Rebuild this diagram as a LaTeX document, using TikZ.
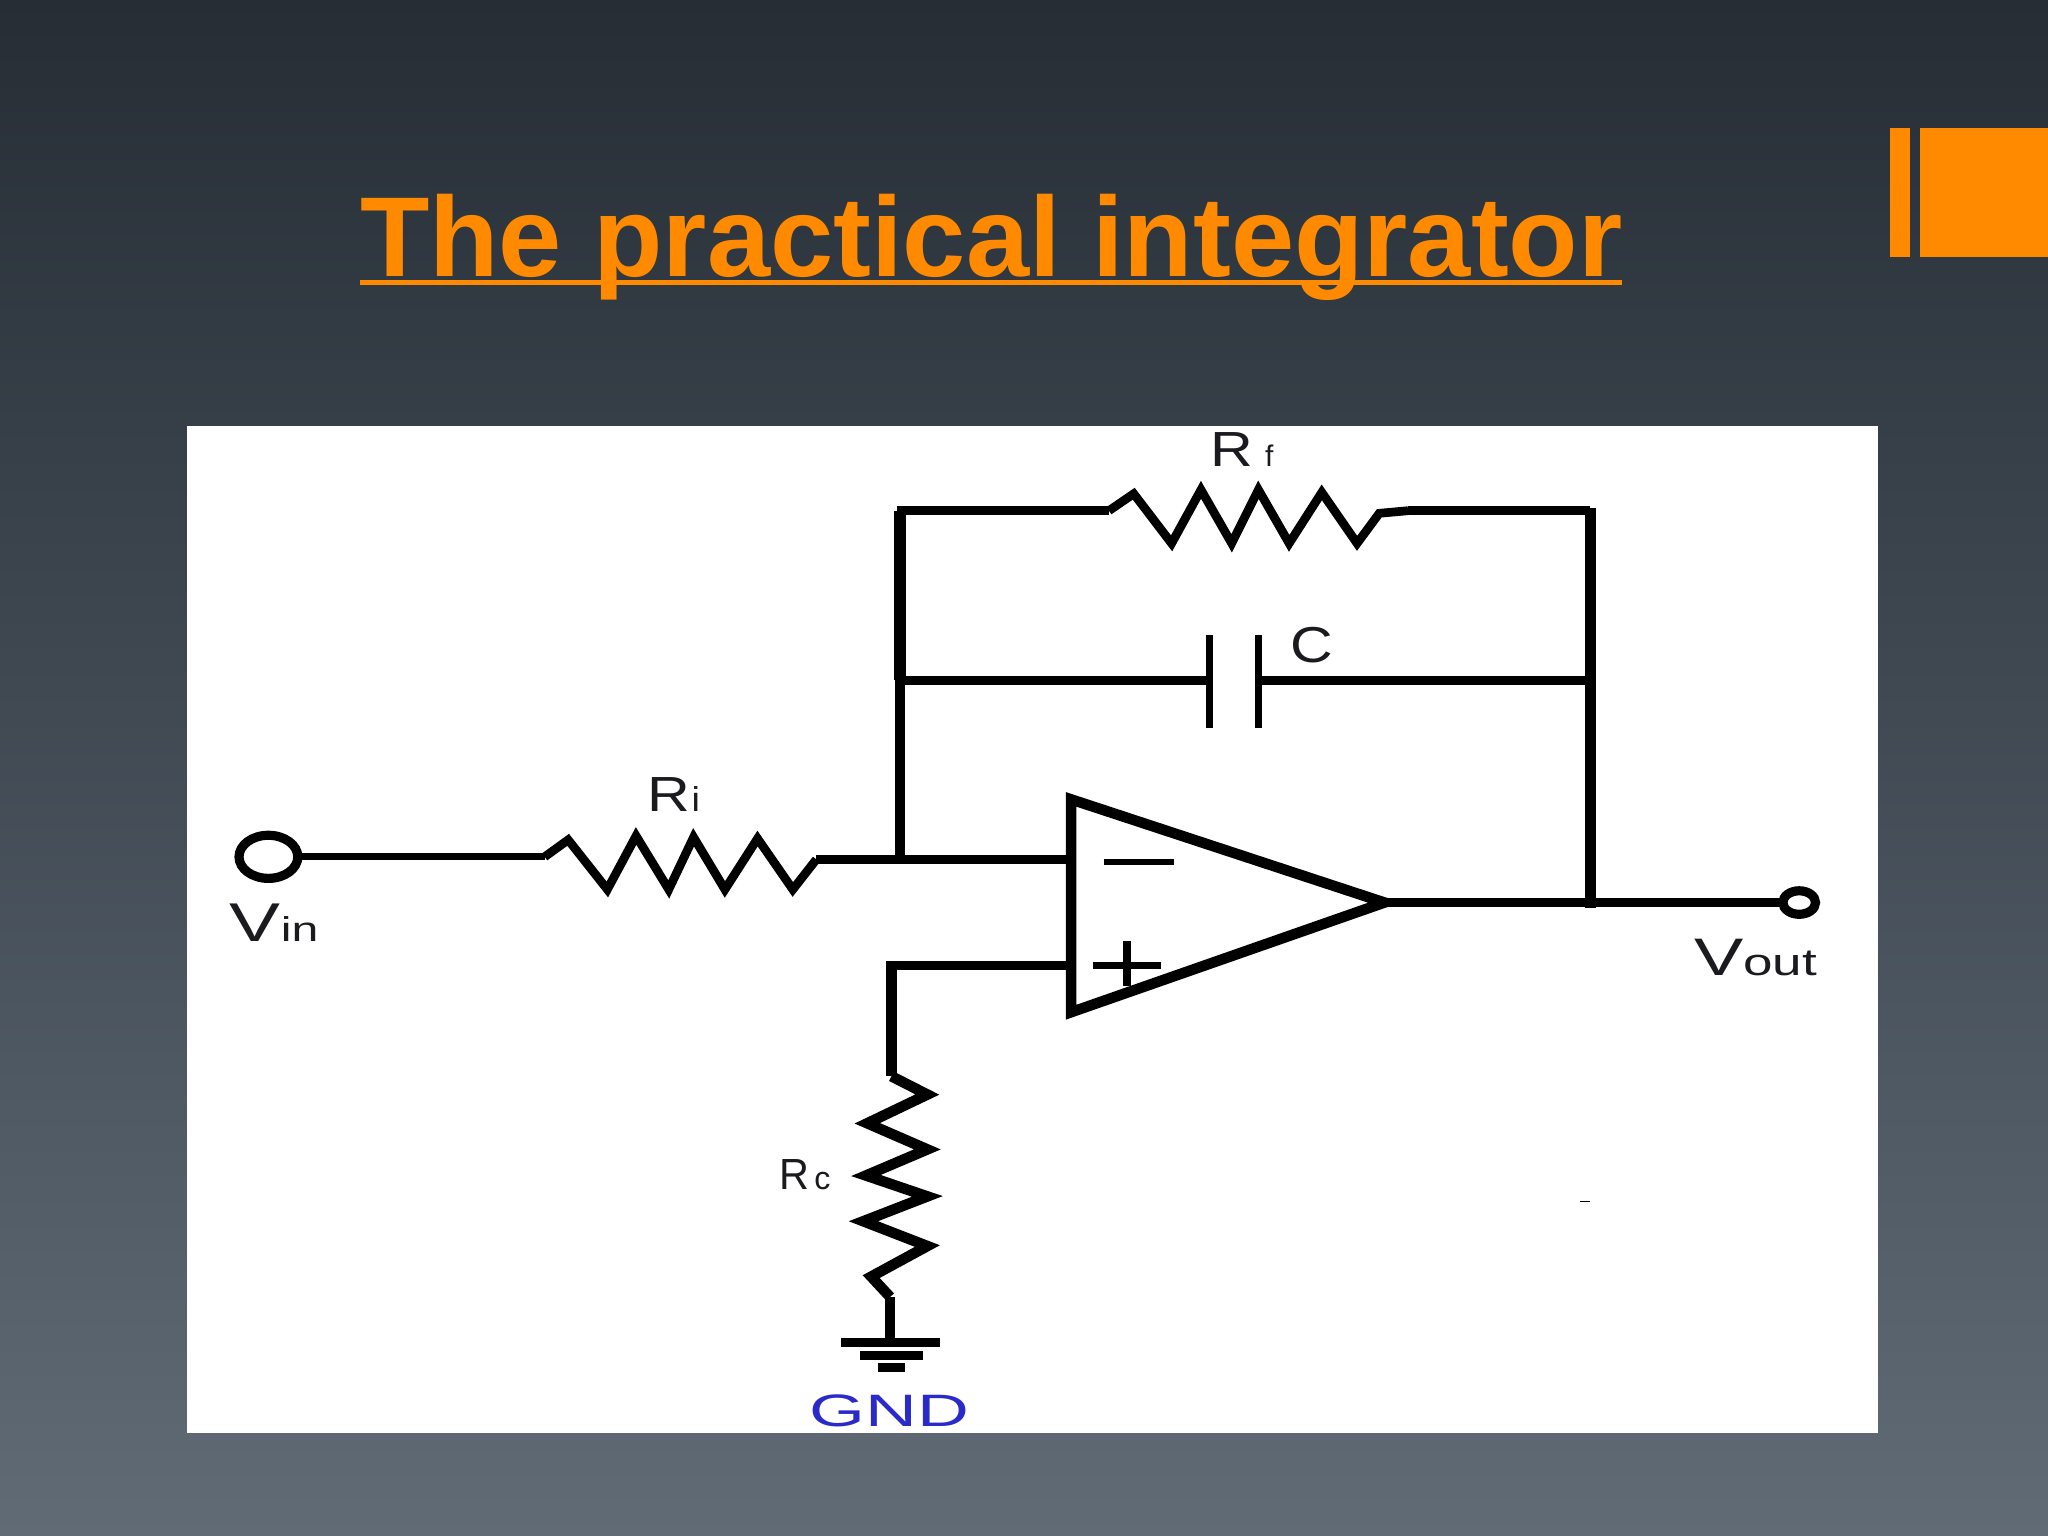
\documentclass[tikz,border=0pt]{standalone}
\usepackage{graphicx}
\usepackage{fontspec}
\setmainfont{Liberation Sans}
\usetikzlibrary{shapes.geometric}
\definecolor{bgtop}{HTML}{262D35}
\definecolor{bgbot}{HTML}{606B76}
\definecolor{accent}{HTML}{FF8A00}
\definecolor{gndblue}{HTML}{2A2AC8}
\definecolor{ink}{HTML}{1A1A1F}
% size main (pt), x-scale main, main text, kern, size sub, x-scale sub, sub text
\newcommand{\lbl}[7]{{\fontsize{#1}{#1}\selectfont\scalebox{#2}[1]{#3}}\kern#4{\fontsize{#5}{#5}\selectfont\scalebox{#6}[1]{#7}}}
\tikzset{
  wire/.style={line width=3.8pt,line join=miter,line cap=butt,black},
  heavy/.style={wire,line width=4.6pt},
  plate/.style={wire,line width=2.8pt},
  txt/.style={anchor=base west,inner sep=0pt,outer sep=0pt,text=ink},
  term/.style={draw=black,ellipse,inner sep=0pt,outer sep=0pt,line width=4pt},
}
\begin{document}
\begin{tikzpicture}[x=0.02cm,y=-0.02cm]
\useasboundingbox (0,0) rectangle (1568,1176);
\shade[top color=bgtop,bottom color=bgbot] (0,0) rectangle (1568,1176);
\fill[accent] (1447,98) rectangle (1462,196.5);
\fill[accent] (1470,98) rectangle (1568,196.5);

\node[anchor=base,inner sep=0pt,text=accent,font=\fontsize{49.5pt}{50pt}\selectfont\bfseries] (title) at (759,212) {The practical integrator};
\coordinate (ulA) at (276,216.5);
\coordinate (ulB) at (1242,216.5);
\draw[accent,line width=2.2pt] (ulA) -- (ulB);

\fill[white] (143,326) rectangle (1437.5,1097.5);

% terminals
\node[term,minimum width=45*0.02cm,minimum height=33*0.02cm] (vin) at (205.5,656) {};
\node[term,minimum width=25*0.02cm,minimum height=18*0.02cm] (vout) at (1377.5,691) {};

% junctions
\coordinate (ja) at (689,658);
\coordinate (jb) at (689,521);
\coordinate (jc) at (689,391);
\coordinate (jd) at (1217.5,391);
\coordinate (je) at (1217.5,521);
\coordinate (jf) at (1217.5,695);
\coordinate (ampTL) at (820,612);
\coordinate (ampBL) at (820,775);
\coordinate (ampO) at (1060,691);
\coordinate (rA) at (417,656);
\coordinate (rB) at (625,658);
\coordinate (fA) at (849,391);
\coordinate (fB) at (1078,391);
\coordinate (capL) at (926,521);
\coordinate (capR) at (963.5,521);
\coordinate (plus) at (820,739);
\coordinate (minus) at (820,658);
\coordinate (pc) at (682.5,739);
\coordinate (cA) at (682.5,824);
\coordinate (cB) at (681.5,993);
\coordinate (gnd) at (681.5,1028);

% input resistor
\draw[wire,line width=3pt] (vin) -- (rA);
\draw[wire] (rA) -- (435,643) -- (465,681) -- (487,640) -- (512,681) -- (531,641) -- (555,681) -- (580,642) -- (607,681) -- (rB);
\draw[wire] (rB) -- (minus);

% feedback
\draw[heavy] (ja) -- (jb);
\draw[heavy,line width=5pt] (jb) -- (jc);
\draw[wire] (686.5,391) -- (fA);
\draw[wire] (fA) -- (868,378) -- (897,416) -- (919.5,375) -- (943,416) -- (963.5,375) -- (987,416) -- (1012,377) -- (1039,416) -- (1056,393) -- (fB);
\draw[wire] (fB) -- (jd);
\draw[heavy] (1217.5,389) -- (jf);
\draw[wire] (jb) -- (capL);
\draw[wire] (capR) -- (je);
\draw[plate] (926,486.5) -- (926,557);
\draw[plate] (963.5,486.5) -- (963.5,557);

% op amp
\draw[heavy] (ampTL) -- (ampO) -- (ampBL) -- cycle;
\draw[wire] (ampO) -- (vout);
\draw[plate,line width=3pt] (845,660) -- (899,660);
\draw[plate,line width=3pt] (837,739) -- (889,739);
\draw[plate,line width=3.6pt] (863,720.5) -- (863,755);

% non-inverting branch
\draw[wire] (plus) -- (678,739);
\draw[heavy,line width=5pt] (pc) -- (cA);
\draw[heavy] (cA) -- (710,838) -- (664,860) -- (710,880) -- (663,900) -- (710,916) -- (661,935) -- (710,954) -- (667,977.4) -- (cB);
\draw[heavy] (cB) -- (gnd);
\draw[wire] (644,1028) -- (720,1028);
\draw[wire] (658.5,1038) -- (707,1038);
\draw[wire] (672.5,1047) -- (693,1047);

% stray mark
\coordinate (sA) at (1210,920);
\coordinate (sB) at (1217,920);
\draw[black,line width=0.7pt] (sA) -- (sB);

% labels
\node[txt] (lVin) at (176,721) {\lbl{23.8pt}{1.4}{V}{0pt}{15pt}{1.4}{in}};
\node[txt] (lRi) at (496,621) {\lbl{21.5pt}{1.2}{R}{0.5pt}{15pt}{1.1}{i}};
\node[txt] (lRf) at (927,357) {\lbl{21.5pt}{1.2}{R}{5pt}{13pt}{1}{f}};
\node[txt] (lC) at (988,507.5) {\lbl{22pt}{1.17}{C}{0pt}{1pt}{1}{}};
\node[txt] (lVout) at (1297,747) {\lbl{23pt}{1.4}{V}{0pt}{16.5pt}{1.4}{out}};
\node[txt] (lRc) at (597,911) {\lbl{19pt}{0.95}{R}{2pt}{14pt}{1}{c}};
\node[txt,text=gndblue] (lGnd) at (620,1092) {\lbl{19.8pt}{1.58}{GND}{0pt}{1pt}{1}{}};
\end{tikzpicture}
\end{document}
